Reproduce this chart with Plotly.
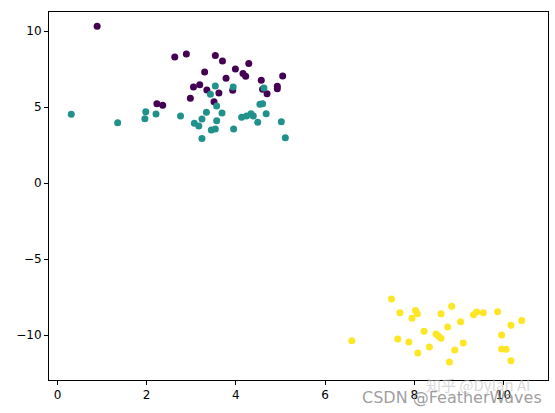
import plotly.graph_objects as go

# cluster 0 (purple)
x0 = [0.89, 2.63, 2.89, 3.54, 3.70, 4.29, 3.99, 3.30, 4.16, 4.22, 3.78, 4.57, 5.05,
      3.19, 3.05, 3.35, 3.62, 3.93, 4.60, 4.70, 4.93, 4.93, 2.98, 3.51, 2.23, 2.36]
y0 = [10.31, 8.29, 8.49, 8.38, 8.03, 7.87, 7.50, 7.30, 7.21, 7.02, 6.89, 6.76, 7.04,
      6.47, 6.32, 6.12, 5.92, 6.10, 6.16, 5.88, 6.36, 6.20, 5.57, 5.35, 5.22, 5.11]

# cluster 1 (teal)
x1 = [0.31, 1.35, 1.98, 1.96, 2.21, 2.76, 3.07, 3.17, 3.24, 3.34, 3.24, 3.45, 3.54,
      3.57, 3.69, 3.57, 3.43, 3.54, 3.94, 3.95, 4.13, 4.24, 4.34, 4.39, 4.49, 4.54,
      4.60, 4.63, 4.68, 5.02, 5.11]
y1 = [4.52, 3.97, 4.69, 4.23, 4.54, 4.41, 3.93, 3.75, 4.21, 4.65, 2.92, 3.49, 3.55,
      4.10, 4.61, 5.07, 5.84, 6.38, 6.32, 3.55, 4.32, 4.41, 4.56, 4.41, 3.99, 5.18,
      5.22, 6.25, 4.56, 4.03, 2.98]

# cluster 2 (yellow)
x2 = [7.49, 7.68, 8.03, 8.07, 7.95, 8.60, 8.84, 9.04, 8.75, 8.22, 8.49, 8.54, 8.60,
      6.60, 7.63, 7.88, 8.08, 8.34, 8.91, 9.10, 8.79, 9.33, 9.40, 9.55, 9.87, 10.17,
      10.41, 9.96, 9.96, 10.06, 10.17]
y2 = [-7.63, -8.53, -8.38, -8.60, -8.90, -8.60, -8.11, -9.12, -9.47, -9.76, -9.93,
      -10.07, -10.22, -10.37, -10.26, -10.46, -11.18, -10.79, -10.99, -10.53, -11.78,
      -8.66, -8.49, -8.53, -8.47, -9.36, -9.04, -10.00, -10.92, -10.94, -11.69]

clusters = [(x0, y0, '#440154'), (x1, y1, '#21918c'), (x2, y2, '#fde725')]

fig = go.Figure()
for xs, ys, color in clusters:
    fig.add_trace(go.Scatter(
        x=xs, y=ys, mode='markers',
        marker=dict(size=7, color=color, line=dict(width=0)),
        showlegend=False
    ))

axis_style = dict(
    showgrid=False, zeroline=False, showline=True, linecolor='black', linewidth=1,
    mirror=True, ticks='outside', ticklen=4, tickcolor='black',
    tickfont=dict(family='DejaVu Sans', size=12, color='black')
)
fig.update_xaxes(range=[-0.19, 11.0], tickvals=[0, 2, 4, 6, 8, 10], **axis_style)
fig.update_yaxes(range=[-12.96, 11.25], tickvals=[-10, -5, 0, 5, 10], **axis_style)

# watermarks (pixel positions from the page corner)
fig.update_layout(annotations=[
    dict(x=478, y=385, xref='paper', yref='paper', text='知乎 @Dylan AI',
         showarrow=False, xanchor='center', yanchor='middle',
         font=dict(family='Noto Sans CJK SC', size=15, color='rgba(190,190,190,0.6)')),
    dict(x=452, y=397, xref='paper', yref='paper', text='CSDN @FeatherWaves',
         showarrow=False, xanchor='center', yanchor='middle',
         font=dict(family='DejaVu Sans', size=16, color='rgba(140,140,140,0.85)')),
])
# convert those pixel positions to paper fractions of the plot area
l, r, t, b = 49, 7, 12, 33
W, H = 555, 413
for ann in fig.layout.annotations:
    ann.x = (ann.x - l) / (W - l - r)
    ann.y = (H - b - ann.y) / (H - t - b)

fig.update_layout(
    width=W, height=H,
    margin=dict(l=l, r=r, t=t, b=b),
    plot_bgcolor='white', paper_bgcolor='white'
)
# drop the default body margin so the figure sits at the page corner
fig.write_html("out.html", config={'displayModeBar': False},
               post_script="document.body.style.margin='0';")
